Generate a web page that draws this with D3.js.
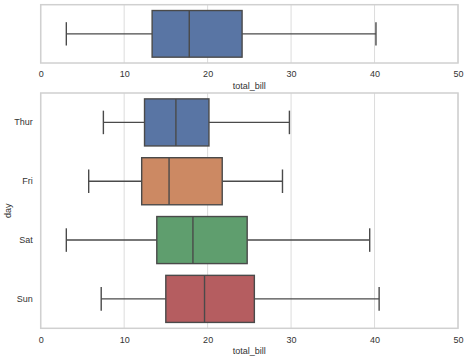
<!DOCTYPE html>
<html>
<head>
<meta charset="utf-8">
<script src="https://cdn.jsdelivr.net/npm/d3@7"></script>
<style>
  body { margin: 0; background: #fff; }
  svg { font-family: "Liberation Sans", Arial, sans-serif; }
</style>
</head>
<body>
<div id="chart"></div>
<script>
// overall total_bill box (top panel)
const allStats = {q1: 13.35, med: 17.80, q3: 24.13, lo: 3.07, hi: 40.17};

// per-day box stats (bottom panel)
const days = ["Thur", "Fri", "Sat", "Sun"];
const q1 = [12.44, 12.10, 13.91, 14.99];
const medians = [16.20, 15.38, 18.24, 19.63];
const q3 = [20.16, 21.75, 24.74, 25.60];
const whiskLo = [7.51, 5.75, 3.07, 7.25];
const whiskHi = [29.80, 28.97, 39.42, 40.55];
const xTicks = [0, 10, 20, 30, 40, 50];
const colors = ["#5975a4", "#cc8963", "#5f9e6e", "#b55d60"];

const W = 474, H = 360;
const lineCol = "#4a4a4a";
const gridCol = "#dcdcdc";
const frameCol = "#d0d0d0";
const textCol = "#333333";

const svg = d3.select("#chart").append("svg")
    .attr("width", W)
    .attr("height", H);

const x = d3.scaleLinear().domain([0, 50]).range([40.7, 458]);

// draw one box horizontally at center cy with box height bh
function drawBox(g, s, cy, bh, fill) {
    g.append("line")
        .attr("x1", x(s.lo)).attr("x2", x(s.q1))
        .attr("y1", cy).attr("y2", cy)
        .attr("stroke", lineCol).attr("stroke-width", 1.4);
    g.append("line")
        .attr("x1", x(s.q3)).attr("x2", x(s.hi))
        .attr("y1", cy).attr("y2", cy)
        .attr("stroke", lineCol).attr("stroke-width", 1.4);
    [s.lo, s.hi].forEach(v => {
        g.append("line")
            .attr("x1", x(v)).attr("x2", x(v))
            .attr("y1", cy - bh / 4).attr("y2", cy + bh / 4)
            .attr("stroke", lineCol).attr("stroke-width", 1.4);
    });
    g.append("rect")
        .attr("x", x(s.q1)).attr("y", cy - bh / 2)
        .attr("width", x(s.q3) - x(s.q1)).attr("height", bh)
        .attr("fill", fill)
        .attr("stroke", lineCol).attr("stroke-width", 1.4);
    g.append("line")
        .attr("x1", x(s.med)).attr("x2", x(s.med))
        .attr("y1", cy - bh / 2).attr("y2", cy + bh / 2)
        .attr("stroke", lineCol).attr("stroke-width", 1.4);
}

function drawPanel(top, bottom) {
    let g = svg.append("g");
    // grid
    g.selectAll(".grid")
        .data(xTicks)
        .enter().append("line")
        .attr("x1", d => x(d)).attr("x2", d => x(d))
        .attr("y1", top).attr("y2", bottom)
        .attr("stroke", gridCol).attr("stroke-width", 1);
    // x axis
    let ax = g.append("g")
        .attr("transform", "translate(0," + bottom + ")")
        .attr("color", textCol)
        .call(d3.axisBottom(x).tickValues(xTicks).tickSize(0).tickPadding(8));
    ax.select(".domain").remove();
    ax.selectAll("text")
        .style("font-size", "9px")
        .style("font-family", "'Liberation Sans', Arial, sans-serif");
    g.append("text")
        .attr("x", (x(0) + x(50)) / 2)
        .attr("y", bottom + 26)
        .attr("text-anchor", "middle")
        .attr("fill", textCol)
        .style("font-size", "9px")
        .text("total_bill");
    return g;
}

function drawFrame(g, top, bottom) {
    g.append("rect")
        .attr("x", x(0)).attr("y", top)
        .attr("width", x(50) - x(0)).attr("height", bottom - top)
        .attr("fill", "none")
        .attr("stroke", frameCol).attr("stroke-width", 1.5);
}

// top panel
const t1 = 4.7, b1 = 63;
let g1 = drawPanel(t1, b1);
drawBox(g1, allStats, (t1 + b1) / 2, 0.8 * (b1 - t1), colors[0]);
drawFrame(g1, t1, b1);

// bottom panel
const t2 = 93, b2 = 328.3;
let g2 = drawPanel(t2, b2);
const y = d3.scaleBand().domain(days).range([t2, b2]);

days.forEach((d, i) => {
    drawBox(g2, {q1: q1[i], med: medians[i], q3: q3[i], lo: whiskLo[i], hi: whiskHi[i]},
        y(d) + y.bandwidth() / 2, 0.8 * y.bandwidth(), colors[i]);
});
drawFrame(g2, t2, b2);

let ay = g2.append("g")
    .attr("transform", "translate(" + x(0) + ",0)")
    .attr("color", textCol)
    .call(d3.axisLeft(y).tickSize(0).tickPadding(8));
ay.select(".domain").remove();
ay.selectAll("text")
    .style("font-size", "9px")
    .style("font-family", "'Liberation Sans', Arial, sans-serif");

g2.append("text")
    .attr("transform", "translate(11," + (t2 + b2) / 2 + ") rotate(-90)")
    .attr("text-anchor", "middle")
    .attr("fill", textCol)
    .style("font-size", "9px")
    .text("day");
</script>
</body>
</html>
